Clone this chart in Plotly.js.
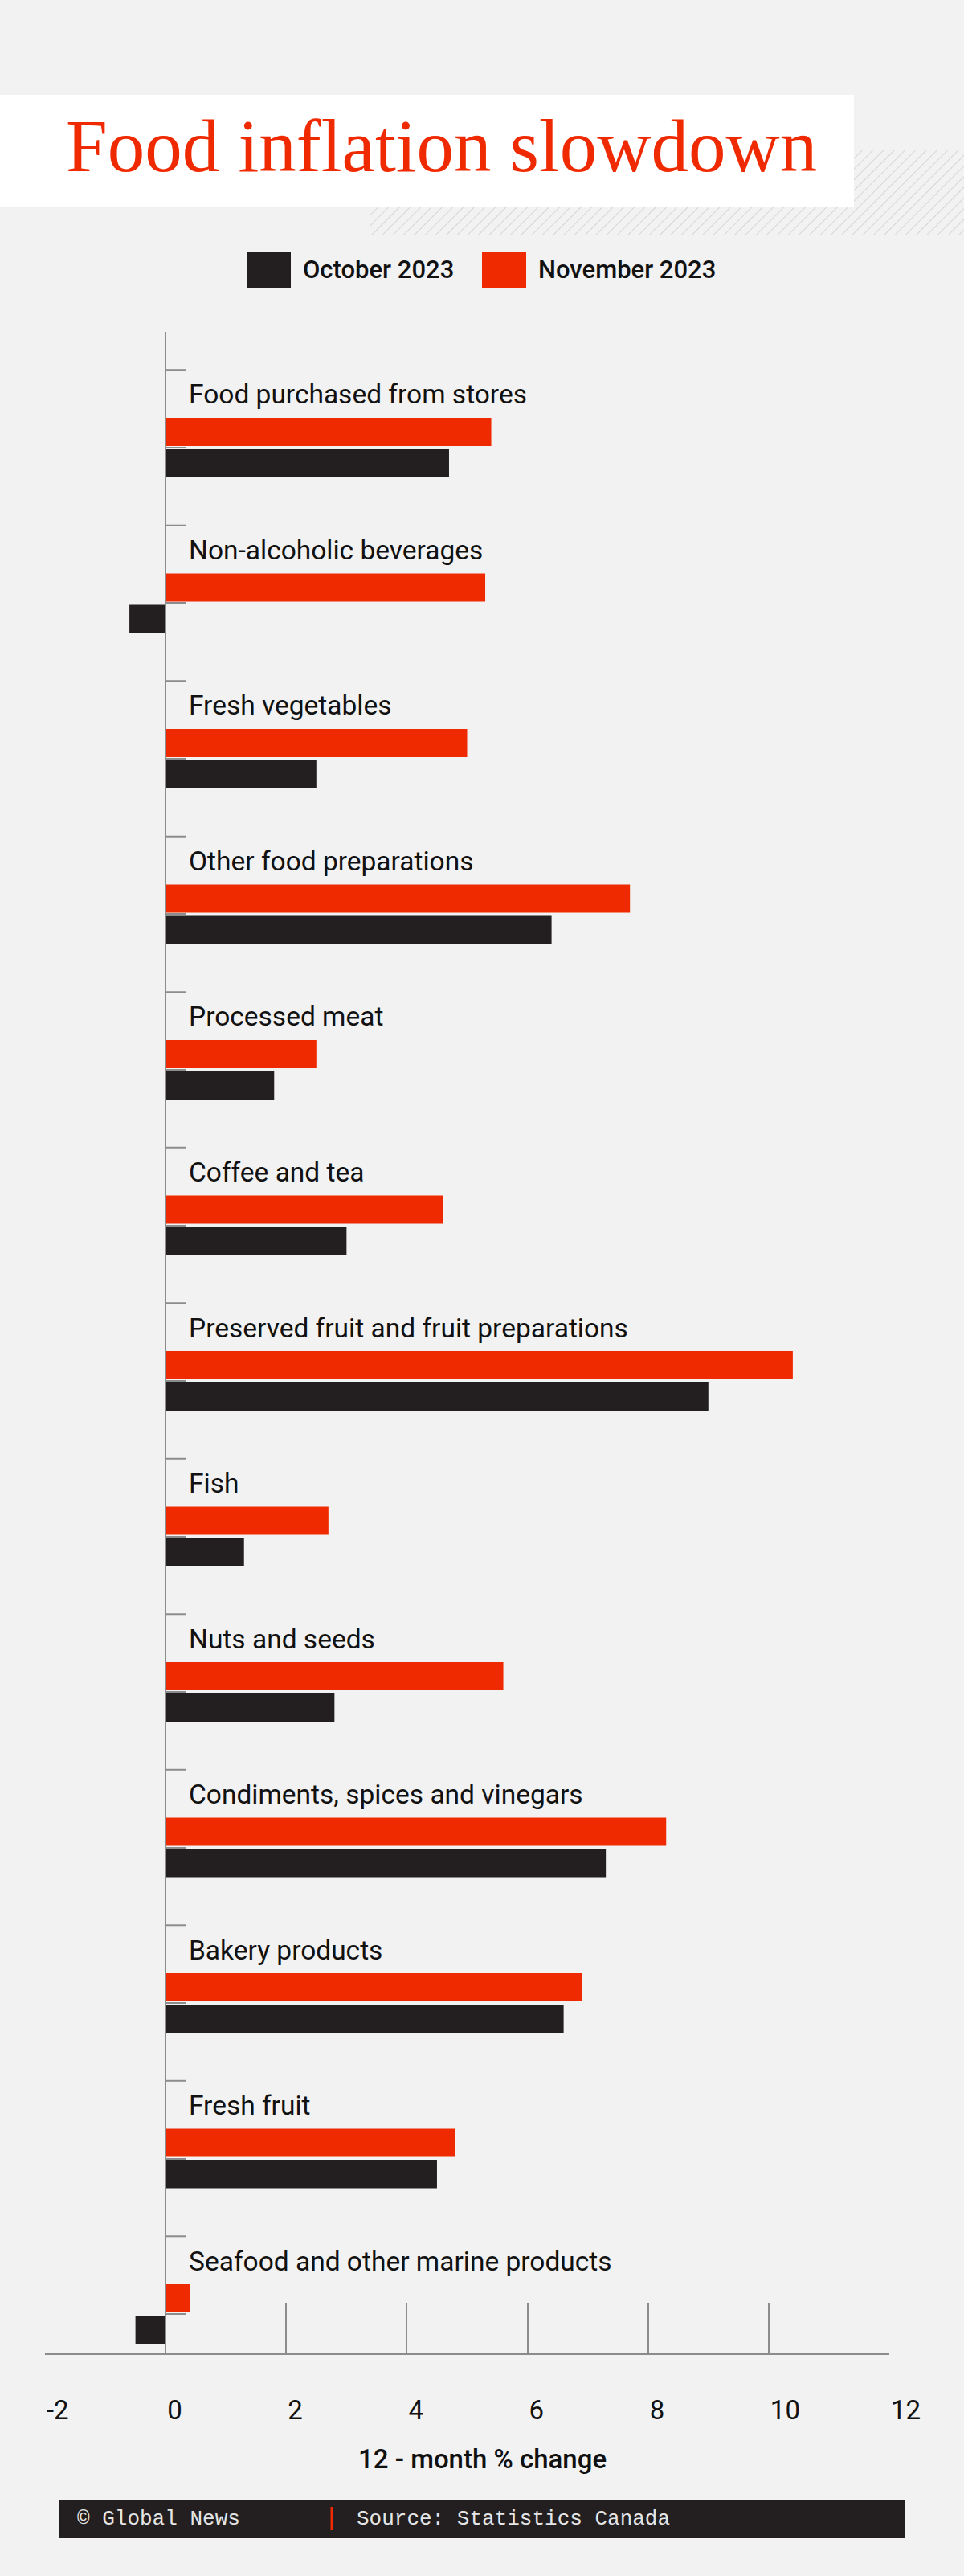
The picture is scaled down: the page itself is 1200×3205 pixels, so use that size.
<!DOCTYPE html>
<html>
<head>
<meta charset="utf-8">
<script src="https://cdn.plot.ly/plotly-3.0.1.min.js"></script>
<style>
  html, body { margin: 0; padding: 0; background: #f2f2f2; }
  #chart { width: 1200px; height: 3205px; }
</style>
</head>
<body>
<div id="chart"></div>
<script>
// ------------------------------------------------------------
// data
// ------------------------------------------------------------
const categories = [
    'Food purchased from stores',
    'Non-alcoholic beverages',
    'Fresh vegetables',
    'Other food preparations',
    'Processed meat',
    'Coffee and tea',
    'Preserved fruit and fruit preparations',
    'Fish',
    'Nuts and seeds',
    'Condiments, spices and vinegars',
    'Bakery products',
    'Fresh fruit',
    'Seafood and other marine products'
]
const october2023 = [4.7, -0.6, 2.5, 6.4, 1.8, 3.0, 9.0, 1.3, 2.8, 7.3, 6.6, 4.5, -0.5]
const november2023 = [5.4, 5.3, 5.0, 7.7, 2.5, 4.6, 10.4, 2.7, 5.6, 8.3, 6.9, 4.8, 0.4]
const xTicks = [-2, 0, 2, 4, 6, 8, 10, 12]
const xTickText = ['-2', '0', '2', '4', '6', '8', '10', '12']

// ------------------------------------------------------------
// layout helpers (page pixels -> paper coords)
// ------------------------------------------------------------
const W = 1200, H = 3205
const M = {l: 56, r: 93, t: 413, b: 277}
const plotW = W - M.l - M.r
const plotH = H - M.t - M.b
const px = x => (x - M.l) / plotW
const py = y => 1 - (y - M.t) / plotH

const RED = '#f02a00'
const DARK = '#231f20'
const GREY = '#8c8c8c'

// hatch pattern behind the title box
const hatchW = W - 461, hatchH = 106
const hatchSvg = '<svg xmlns="http://www.w3.org/2000/svg" width="' + hatchW + '" height="' + hatchH + '">' +
    '<defs><pattern id="h" width="9.4" height="9.4" patternUnits="userSpaceOnUse" patternTransform="rotate(45)">' +
    '<line x1="0" y1="0" x2="0" y2="9.4" stroke="#c9c9c9" stroke-width="1.4"/></pattern></defs>' +
    '<rect width="100%" height="100%" fill="url(#h)"/></svg>'

const traces = [
    {
        type: 'bar', orientation: 'h', name: 'November 2023',
        x: november2023, y: categories,
        marker: {color: RED, line: {width: 0}},
        hoverinfo: 'x'
    },
    {
        type: 'bar', orientation: 'h', name: 'October 2023',
        x: october2023, y: categories,
        marker: {color: DARK, line: {width: 0}},
        hoverinfo: 'x'
    }
]

// category labels sit above each pair of bars
const labelNotes = categories.map(c => ({
    x: 0, xref: 'x', xanchor: 'left', xshift: 27,
    y: c, yref: 'y', yanchor: 'middle', yshift: 66,
    text: c, showarrow: false,
    font: {family: 'Roboto', size: 33.5, color: '#111'}
}))

// small ticks between categories
const boundaryTicks = categories.map((c, i) => ({
    type: 'line', xref: 'x', yref: 'y',
    x0: 0, x1: 25 / 75, y0: i - 0.5, y1: i - 0.5,
    line: {color: GREY, width: 2}
}))

const otherNotes = [
    {   // title
        xref: 'paper', yref: 'paper', x: px(80), y: py(182),
        xanchor: 'left', yanchor: 'middle', showarrow: false,
        text: 'Food inflation slowdown',
        font: {family: 'Liberation Serif', size: 93, color: RED}
    },
    {
        xref: 'paper', yref: 'paper', x: px(375), y: py(335),
        xanchor: 'left', yanchor: 'middle', showarrow: false,
        text: 'October 2023',
        font: {family: 'Roboto', size: 31, weight: 500, color: '#111'}
    },
    {
        xref: 'paper', yref: 'paper', x: px(668), y: py(335),
        xanchor: 'left', yanchor: 'middle', showarrow: false,
        text: 'November 2023',
        font: {family: 'Roboto', size: 31, weight: 500, color: '#111'}
    },
    {   // axis title
        xref: 'paper', yref: 'paper', x: px(600), y: py(3059),
        xanchor: 'center', yanchor: 'middle', showarrow: false,
        text: '12 - month % change',
        font: {family: 'Roboto', size: 33, weight: 500, color: '#111'}
    },
    {
        xref: 'paper', yref: 'paper', x: px(94), y: py(3134),
        xanchor: 'left', yanchor: 'middle', showarrow: false,
        text: '© Global News',
        font: {family: 'Liberation Mono', size: 26, color: '#e6e6e6'}
    },
    {
        xref: 'paper', yref: 'paper', x: px(442), y: py(3134),
        xanchor: 'left', yanchor: 'middle', showarrow: false,
        text: 'Source: Statistics Canada',
        font: {family: 'Liberation Mono', size: 26, color: '#e6e6e6'}
    }
]

const boxShapes = [
    // white title box
    {type: 'rect', xref: 'paper', yref: 'paper', layer: 'below',
     x0: px(0), x1: px(1063), y0: py(118), y1: py(258),
     fillcolor: '#ffffff', line: {width: 0}},
    // legend swatches
    {type: 'rect', xref: 'paper', yref: 'paper',
     x0: px(307), x1: px(362), y0: py(313), y1: py(358),
     fillcolor: DARK, line: {width: 0}},
    {type: 'rect', xref: 'paper', yref: 'paper',
     x0: px(600), x1: px(655), y0: py(313), y1: py(358),
     fillcolor: RED, line: {width: 0}},
    // footer
    {type: 'rect', xref: 'paper', yref: 'paper',
     x0: px(73), x1: px(1127), y0: py(3110), y1: py(3158),
     fillcolor: DARK, line: {width: 0}},
    {type: 'line', xref: 'paper', yref: 'paper',
     x0: px(413), x1: px(413), y0: py(3119), y1: py(3148),
     line: {color: RED, width: 3}}
]

const layout = {
    width: W, height: H,
    margin: M,
    paper_bgcolor: '#f2f2f2',
    plot_bgcolor: 'rgba(0,0,0,0)',
    showlegend: false,
    barmode: 'group',
    bargap: 0.597,
    bargroupgap: 0.103,
    xaxis: {
        range: [-2, 12],
        tickvals: xTicks, ticktext: xTickText,
        ticks: 'inside', ticklen: 63, tickwidth: 2, tickcolor: GREY,
        showline: true, linecolor: GREY, linewidth: 2,
        showgrid: false, zeroline: false,
        ticklabelposition: 'outside right',
        ticklabelstandoff: 40,
        tickfont: {family: 'Roboto', size: 33, color: '#111'},
        fixedrange: true
    },
    yaxis: {
        type: 'category',
        categoryorder: 'array', categoryarray: categories,
        range: [12.253, -0.744],
        anchor: 'free', position: 2 / 14,
        showline: true, linecolor: GREY, linewidth: 2,
        ticks: 'inside', ticklen: 25, tickwidth: 2, tickcolor: GREY,
        showticklabels: false, showgrid: false, zeroline: false,
        fixedrange: true
    },
    images: [{
        source: 'data:image/svg+xml;base64,' + btoa(hatchSvg),
        xref: 'paper', yref: 'paper',
        x: px(461), y: py(187), sizex: hatchW / plotW, sizey: hatchH / plotH,
        xanchor: 'left', yanchor: 'top', sizing: 'stretch', layer: 'below'
    }],
    shapes: boxShapes.concat(boundaryTicks),
    annotations: labelNotes.concat(otherNotes)
}

Plotly.newPlot('chart', traces, layout, {displayModeBar: false, staticPlot: true})
</script>
</body>
</html>
